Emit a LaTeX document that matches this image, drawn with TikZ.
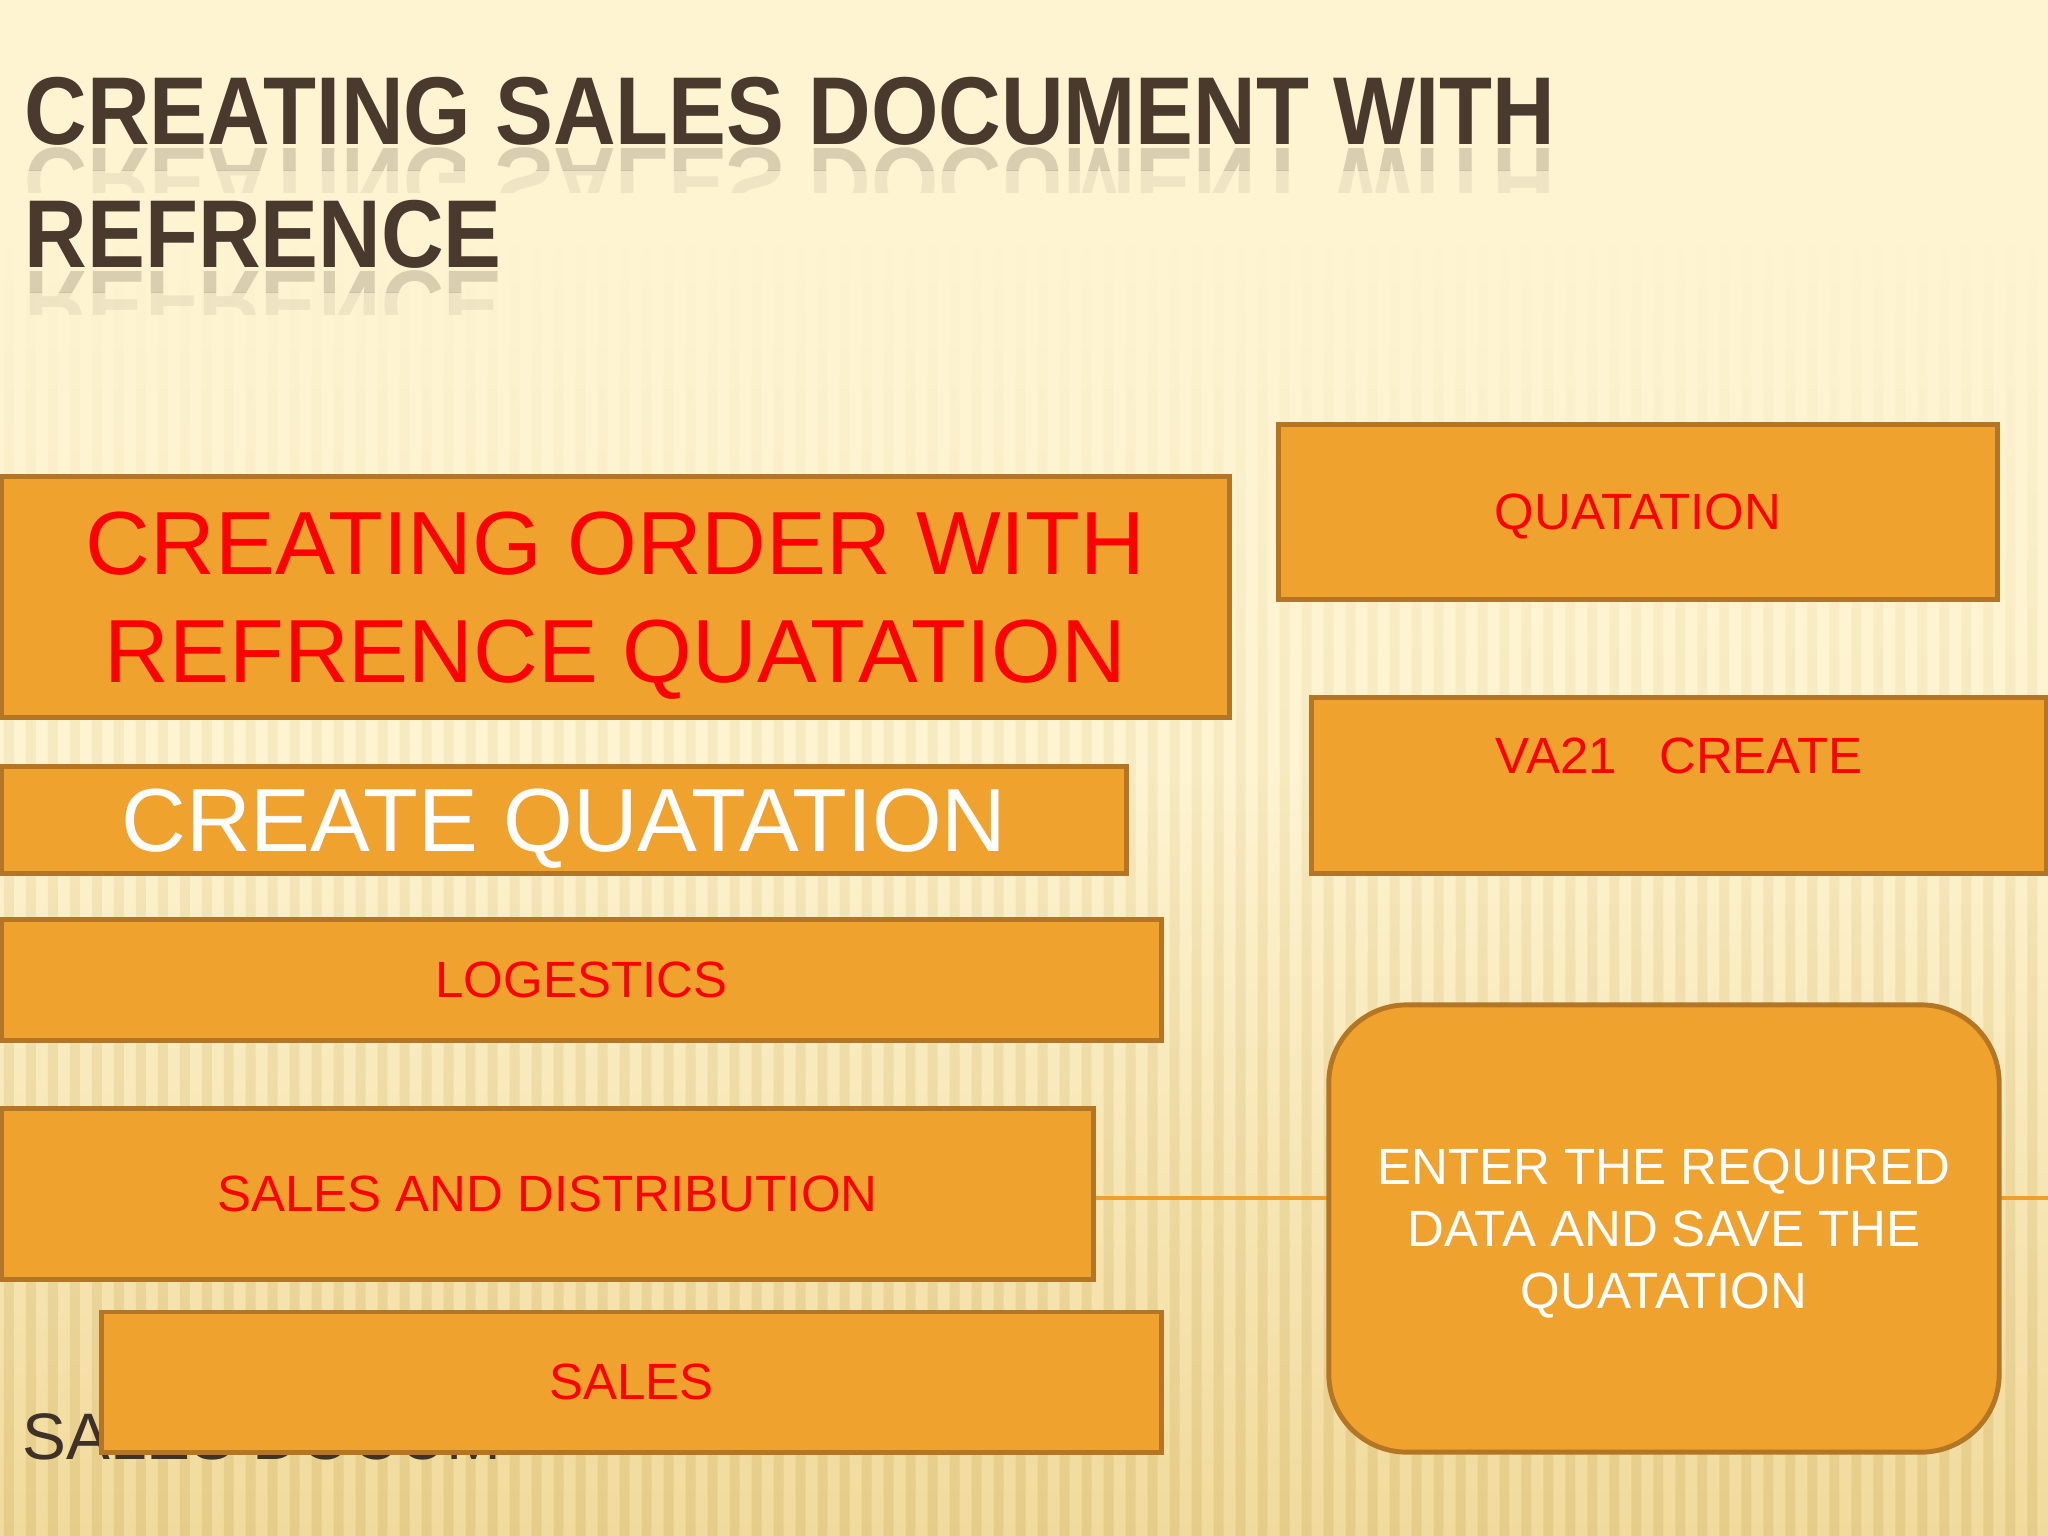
\documentclass[tikz,border=0pt]{standalone}
\usepackage{fontspec}
\setmainfont{Liberation Sans}
\usetikzlibrary{fadings}
\definecolor{boxfill}{HTML}{F0A22E}
\definecolor{boxline}{HTML}{B47624}
\definecolor{titlec}{HTML}{4A3A2D}
\definecolor{bottomc}{HTML}{3E3128}
\definecolor{bgtop}{HTML}{FEF4D2}
\definecolor{bgbot}{HTML}{F1DA9C}
\definecolor{stripec}{HTML}{D9BC74}
\definecolor{linec}{HTML}{EE9F2C}
\tikzset{
  box/.style={draw=boxline, fill=boxfill, line width=1.4pt, inner sep=0pt},
  small/.style={font=\fontsize{14.5}{17.6}\selectfont, text=red},
  big/.style={font=\fontsize{25.5}{30.6}\selectfont},
  titletext/.style={anchor=base west, inner sep=0pt, text=titlec, font=\fontsize{27.4}{30}\selectfont\bfseries},
  connline/.style={draw=linec, line width=0.9pt},
}
\begin{document}
\begin{tikzpicture}[x=0.01cm,y=-0.01cm]
\useasboundingbox (0,0) rectangle (2048,1536);
% background
\shade[top color=bgtop, bottom color=bgbot, middle color=bgtop] (0,0) rectangle (2048,1536);
\fill[stripec, fill opacity=0.45, path fading=north]
  foreach \i in {0,...,92} { (\i*22+4,240) rectangle ++(10,1296) };
% title
\node[titletext] (t1) at (24,144) {\scalebox{0.9}[1]{CREATING SALES DOCUMENT WITH}};
\node[titletext] (t2) at (24,267) {\scalebox{0.9}[1]{REFRENCE}};
\begin{scope}
  \clip (0,146) rectangle (1700,170);
  \node[titletext, text opacity=0.2] (t1r) at (24,148) {\scalebox{0.9}[-1]{CREATING SALES DOCUMENT WITH}};
\end{scope}
\begin{scope}
  \clip (0,170) rectangle (1700,192);
  \node[titletext, text opacity=0.08] (t1s) at (24,148) {\scalebox{0.9}[-1]{CREATING SALES DOCUMENT WITH}};
\end{scope}
\begin{scope}
  \clip (0,269) rectangle (600,292);
  \node[titletext, text opacity=0.2] (t2r) at (24,271) {\scalebox{0.9}[-1]{REFRENCE}};
\end{scope}
\begin{scope}
  \clip (0,292) rectangle (600,314);
  \node[titletext, text opacity=0.08] (t2s) at (24,271) {\scalebox{0.9}[-1]{REFRENCE}};
\end{scope}
% left column
\node[box, minimum width=12.27cm, minimum height=2.40cm, big, text=red, align=center] (order) at (615.5,597) {CREATING ORDER WITH\\\smash{REFRENCE QUATATION}};
\node[box, minimum width=11.24cm, minimum height=1.07cm, big, text=white, text depth=0pt] (cq) at (564,820) {CREATE QUATATION};
\node[box, minimum width=11.59cm, minimum height=1.21cm, small, text depth=0pt] (log) at (581.5,980) {LOGESTICS};
\node[box, minimum width=10.91cm, minimum height=1.71cm, small, text depth=0pt] (sd) at (547.5,1194) {SALES AND DISTRIBUTION};
\node[anchor=base west, inner sep=0pt, text=bottomc, font=\fontsize{18.7}{20}\selectfont] (doc) at (22,1459) {SALES DOCUM};
\node[box, minimum width=10.59cm, minimum height=1.40cm, small, text depth=0pt] (sales) at (631.5,1382) {SALES};
% right column
\node[box, minimum width=7.18cm, minimum height=1.74cm, small, text depth=0pt] (quat) at (1638,512) {QUATATION};
\node[box, minimum width=7.34cm, minimum height=1.75cm, small, text height=10.3pt, text depth=17.4pt] (va) at (1679,785.5) {VA21\ \ \ CREATE};
\coordinate (lineR) at (2048,1198);
\draw[connline] (sd.east |- lineR) -- (lineR);
\node[box, rounded corners=0.78cm, minimum width=6.70cm, minimum height=4.47cm, small, text=white, align=center] (enter) at (1664,1228.5) {ENTER THE REQUIRED\\DATA AND SAVE THE\\\smash{QUATATION}};
\end{tikzpicture}
\end{document}
